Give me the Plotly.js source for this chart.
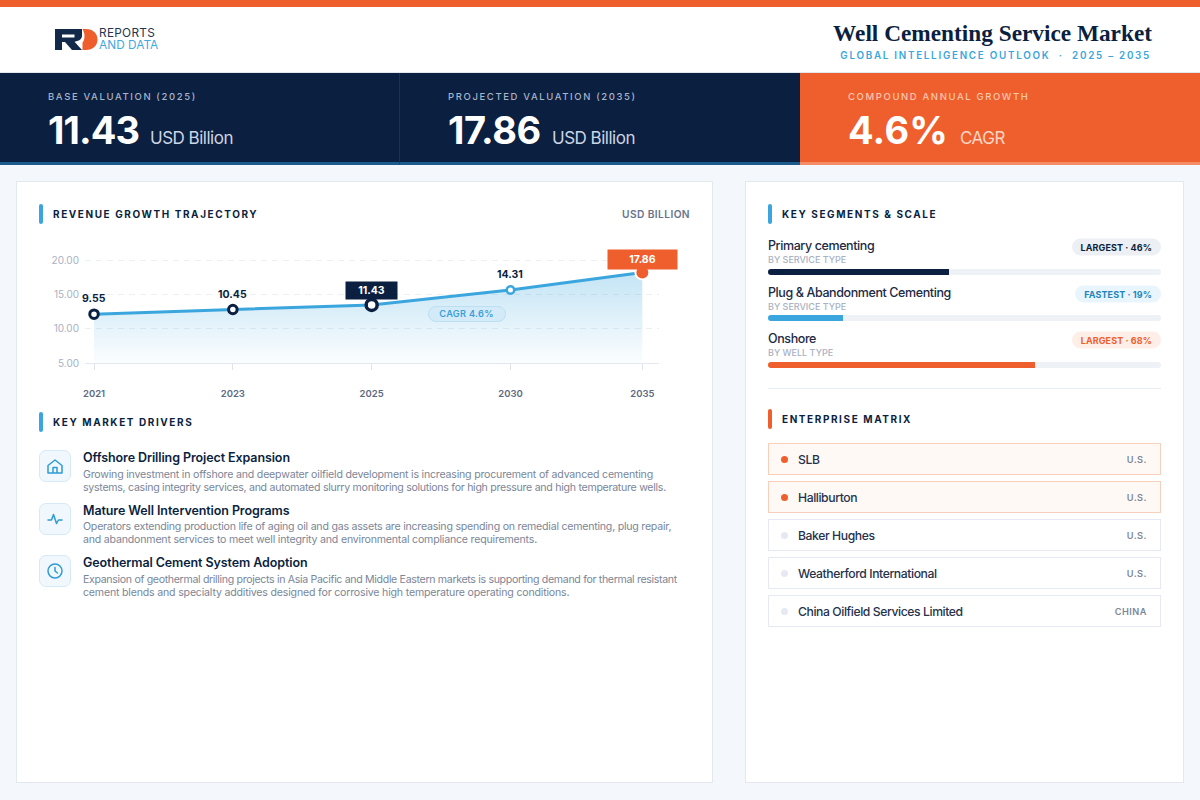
<!DOCTYPE html>
<html><head><meta charset="utf-8">
<script src="https://cdn.plot.ly/plotly-3.0.1.min.js"></script>
<style>
html,body{margin:0;padding:0;width:1200px;height:800px;overflow:hidden;background:#f4f7fb;font-family:Inter,"Noto Sans",sans-serif}
.b{position:absolute;box-sizing:border-box}
.t{position:absolute;white-space:nowrap;transform:translateY(-50%);line-height:1}
#trend{position:absolute}
.seg{position:absolute;left:768px;width:393px;height:6px;border-radius:3px;overflow:hidden}
</style></head><body>
<div id="page"></div>
<div id="trend" style="left:40px;top:240px;width:650px;height:170px"></div>
<div id="seg0" class="seg" style="top:269px"></div>
<div id="seg1" class="seg" style="top:315px"></div>
<div id="seg2" class="seg" style="top:362px"></div>
<div id="over"></div>
<script>
// ---------- data ----------
const years = ['2021','2023','2025','2030','2035'];
const yearSlots = [0,1,2,3,3.95];
const plottedValues = [12.12,12.79,13.47,15.65,18.2];
const pointLabels = ['9.55','10.45','11.43','14.31','17.86'];
const yTicks = [5,10,15,20];

const kpiLabels = ['BASE VALUATION (2025)','PROJECTED VALUATION (2035)','COMPOUND ANNUAL GROWTH'];
const kpiValues = ['11.43','17.86','4.6%'];
const kpiUnits = ['USD Billion','USD Billion','CAGR'];

const segNames = ['Primary cementing','Plug & Abandonment Cementing','Onshore'];
const segTypes = ['BY SERVICE TYPE','BY SERVICE TYPE','BY WELL TYPE'];
const segTags = ['LARGEST · 46%','FASTEST · 19%','LARGEST · 68%'];
const segShares = [46,19,68];

const driverTitles = ['Offshore Drilling Project Expansion','Mature Well Intervention Programs','Geothermal Cement System Adoption'];
const driverLines = [
 ['Growing investment in offshore and deepwater oilfield development is increasing procurement of advanced cementing','systems, casing integrity services, and automated slurry monitoring solutions for high pressure and high temperature wells.'],
 ['Operators extending production life of aging oil and gas assets are increasing spending on remedial cementing, plug repair,','and abandonment services to meet well integrity and environmental compliance requirements.'],
 ['Expansion of geothermal drilling projects in Asia Pacific and Middle Eastern markets is supporting demand for thermal resistant','cement blends and specialty additives designed for corrosive high temperature operating conditions.']
];
const companies = ['SLB','Halliburton','Baker Hughes','Weatherford International','China Oilfield Services Limited'];
const regions = ['U.S.','U.S.','U.S.','U.S.','CHINA'];
const highlighted = [true,true,false,false,false];

// ---------- palette ----------
const NAVY='#0b1f40', BLUE='#3aa6dd', ORANGE='#ef5f2d';

// ---------- page furniture ----------
let h='';
const box=(x,y,w,ht,s)=>{h+=`<div class="b" style="left:${x}px;top:${y}px;width:${w}px;height:${ht}px;${s||''}"></div>`;};
const txt=(x,y,s,style)=>{h+=`<div class="t" style="left:${x}px;top:${y}px;${style}">${s}</div>`;};
const rtxt=(x,y,s,style)=>{h+=`<div class="t" style="right:${1200-x}px;top:${y}px;${style}">${s}</div>`;};
const esc=s=>s.replace(/&/g,'&amp;');

box(0,0,1200,7,`background:${ORANGE}`);
box(0,7,1200,66,'background:#fff;border-bottom:1px solid #e2e7ee');
// logo
h+=`<svg class="b" style="left:55px;top:28px" width="44" height="23" viewBox="0 0 44 23">
<path d="M27 1H0v21h7V14h3l7 8h10l-7.500-8.300C25 13 27 10.500 27 7.500V1zM7 6.500h12.500v3H7z" fill="#12294a" fill-rule="evenodd"/>
<path d="M27.500 1H31c7 0 11.500 4.600 11.500 10.500S38 22 31 22H27.500V14.500C29 13 29.500 10 29.500 8 29.500 5 28.500 3 27.500 1z" fill="${ORANGE}"/></svg>`;
txt(99,34,'REPORTS','font-size:11.8px;color:#24354f;letter-spacing:.3px');
txt(99,46,'AND DATA','font-size:11.8px;color:#3fa9e0;letter-spacing:.05px');
rtxt(1152,33.5,'Well Cementing Service Market',`font-family:'Liberation Serif',serif;font-weight:700;font-size:23.3px;color:${NAVY}`);
rtxt(1151,55.5,'GLOBAL INTELLIGENCE OUTLOOK &nbsp;·&nbsp; 2025 – 2035',`font-size:9.8px;font-weight:600;letter-spacing:1.75px;color:${BLUE}`);

// KPI band
box(0,73,400,92,`background:${NAVY};border-bottom:3px solid #1c5c8c;border-right:1px solid #1d3253`);
box(400,73,400,92,`background:${NAVY};border-bottom:3px solid #1c5c8c`);
box(800,73,400,92,`background:${ORANGE};border-bottom:3px solid #f58c68`);
const kpiX=[48,448,848], unitX=[150,552,960];
const kpiTrack=[-.9,-.4,.2];
kpiLabels.forEach((l,i)=>{
  txt(kpiX[i],97,l,`font-size:9.5px;font-weight:500;letter-spacing:1.62px;color:${i==2?'#fbc6ae':'#a7b4ca'}`);
  txt(kpiX[i],130,kpiValues[i],`font-size:38px;font-weight:700;color:#fff;letter-spacing:${kpiTrack[i]}px`);
  txt(unitX[i],138,kpiUnits[i],`font-size:17px;letter-spacing:-.5px;color:${i==2?'#fbd5c5':'#ccd5e3'}`);
});

// cards
box(16,181,697,602,'background:#fff;border:1px solid #e3e8ef');
box(745,181,439,602,'background:#fff;border:1px solid #e3e8ef');

const sec=(x,y,s,c)=>{box(x,y-10,3.500,20,`background:${c};border-radius:2px`);txt(x+14,y,s,`font-size:10px;font-weight:700;letter-spacing:1.58px;color:${NAVY}`);};
sec(39,214,'REVENUE GROWTH TRAJECTORY',BLUE);
sec(39,422,'KEY MARKET DRIVERS',BLUE);
sec(768,214,'KEY SEGMENTS &amp; SCALE',BLUE);
sec(768,419,'ENTERPRISE MATRIX',ORANGE);
rtxt(690,214,'USD BILLION','font-size:10.2px;font-weight:600;letter-spacing:.4px;color:#68748a');

// drivers
const icons=[
 '<path d="M3 9.500 10 4l7 5.500V17H3z M8 17v-5.500h4V17"/>',
 '<path d="M3 11h3.500l2-5.500 3 9 2-3.500H17"/>',
 '<circle cx="10" cy="10" r="7"/><path d="M10 6.500V10l2.500 2"/>'];
const boxY=[450,503,555], titleY=[457.5,510.5,562.5], lineY=[[474.5,487.5],[526.5,539.5],[579.5,592.5]];
const lineTrack=[[-.2,-.28],[-.23,-.2],[-.33,-.19]];
driverTitles.forEach((d,i)=>{
  box(39,boxY[i],32,32,'background:#f0f8fd;border:1px solid #d5e9f6;border-radius:7px');
  h+=`<svg class="b" style="left:45px;top:${boxY[i]+6}px" width="20" height="20" viewBox="0 0 20 20" fill="none" stroke="#2f9bd4" stroke-width="1.500" stroke-linejoin="round" stroke-linecap="round">${icons[i]}</svg>`;
  txt(83,titleY[i],d,`font-size:12.5px;font-weight:600;letter-spacing:-.1px;color:${NAVY}`);
  driverLines[i].forEach((l,j)=>txt(83,lineY[i][j],l,`font-size:10.6px;letter-spacing:${lineTrack[i][j]}px;color:#7b8698`));
});

// segments text
const segNameY=[246,293,339], segTypeY=[258.8,305.8,351.8];
const pillBg=['#eceff4','#e9f5fc','#fdeee8'], pillFg=[NAVY,'#1f86bd',ORANGE];
segNames.forEach((s,i)=>{
  txt(768,segNameY[i],esc(s),'font-size:12.5px;font-weight:500;letter-spacing:-.4px;color:#1c2a44');
  txt(768,segTypeY[i],segTypes[i],'font-size:9px;font-weight:500;color:#a9b1c2');
  h+=`<div class="t" style="right:39px;top:${segNameY[i]+.5}px;height:17px;line-height:17px;padding:0 9px;border-radius:9px;background:${pillBg[i]};color:${pillFg[i]};font-size:9px;font-weight:700;letter-spacing:.1px">${segTags[i]}</div>`;
});
box(768,388,393,1,'background:#e8ebf1');

// companies
const rowY=[443,481,519,557,595];
companies.forEach((c,i)=>{
  const hi=highlighted[i];
  box(768,rowY[i],393,32,hi?'background:#fff9f6;border:1px solid #f7cfbb':'background:#fff;border:1px solid #e6e9f1');
  box(781,rowY[i]+12.500,7,7,`border-radius:50%;background:${hi?ORANGE:'#e6e9f1'}`);
  txt(798,rowY[i]+16.500,c,'font-size:12.2px;font-weight:500;letter-spacing:-.42px;color:#26324b');
  rtxt(1147,rowY[i]+17,regions[i],'font-size:9.2px;font-weight:600;letter-spacing:.5px;color:#7d8799');
});
document.getElementById('page').innerHTML=h;

// CAGR pill sits over the plot
document.getElementById('over').innerHTML=`<div class="b" style="left:427.500px;top:305.500px;width:78px;height:16.500px;border-radius:9px;background:#d3ebf8;border:1px solid #bcdff1;color:#3aa0d8;font-size:9.200px;font-weight:600;letter-spacing:.3px;text-align:center;line-height:14.500px">CAGR 4.6%</div>`;

// ---------- trend chart ----------
const labelShift=[15.5,15.5,0,15.5,0];
const annos=pointLabels.map((l,i)=>{
  const base={x:yearSlots[i],y:plottedValues[i],xref:'x',yref:'y',text:l,showarrow:false};
  if(i===2) return {...base,yshift:14,width:51,height:17,bgcolor:NAVY,font:{family:'Inter',size:10.5,color:'#fff',weight:700},borderpad:0};
  if(i===4) return {...base,yshift:13,width:69,height:19,bgcolor:ORANGE,font:{family:'Inter',size:10.5,color:'#fff',weight:700},borderpad:0};
  return {...base,yshift:labelShift[i],font:{family:'Inter',size:10.5,color:NAVY,weight:700}};
});
Plotly.newPlot('trend',[{
  type:'scatter',mode:'lines+markers',x:yearSlots,y:plottedValues,
  line:{color:BLUE,width:3},
  fill:'tozeroy',
  fillgradient:{type:'vertical',start:18.2,stop:5,colorscale:[[0,'rgba(58,166,221,0.30)'],[1,'rgba(58,166,221,0.02)']]},
  marker:{size:[8.5,8.5,11,7.5,14],color:['#fff','#fff','#fff','#fff',ORANGE],opacity:1,
          line:{color:[NAVY,NAVY,NAVY,BLUE,'#fff'],width:[3,3,3.5,2.5,2]}},
  cliponaxis:false,hoverinfo:'skip'
}],{
  width:650,height:170,margin:{l:45,r:31,t:10,b:46.5},
  paper_bgcolor:'rgba(0,0,0,0)',plot_bgcolor:'rgba(0,0,0,0)',showlegend:false,
  xaxis:{type:'linear',range:[-0.065,4.07],tickmode:'array',tickvals:yearSlots,ticktext:years,
    showgrid:false,zeroline:false,showline:true,linecolor:'#e3e7f0',linewidth:1,
    ticks:'outside',ticklen:6,tickcolor:'#dfe3ec',ticklabelstandoff:16,
    tickfont:{family:'Inter',size:9.5,color:'#5d6a82',weight:600}},
  yaxis:{range:[5,21.47],tickmode:'array',tickvals:yTicks,tickformat:'.2f',
    showgrid:true,gridcolor:'#eceff4',griddash:'6px,5px',gridwidth:1,zeroline:false,showline:false,
    ticks:'',ticklabelstandoff:5,tickfont:{family:'Inter',size:10,color:'#a9b1c2'}},
  annotations:annos
},{displayModeBar:false,staticPlot:true});

// ---------- segment bars ----------
const segColors=[NAVY,BLUE,ORANGE];
segNames.forEach((name,i)=>{
  Plotly.newPlot('seg'+i,[
   {type:'bar',orientation:'h',y:[name],x:[100],marker:{color:'#eef1f6'},hoverinfo:'skip'},
   {type:'bar',orientation:'h',y:[name],x:[segShares[i]],marker:{color:segColors[i],cornerradius:3},hoverinfo:'skip'}
  ],{
    width:393,height:6,margin:{l:0,r:0,t:0,b:0,pad:0},barmode:'overlay',bargap:0,showlegend:false,
    paper_bgcolor:'rgba(0,0,0,0)',plot_bgcolor:'rgba(0,0,0,0)',
    xaxis:{range:[0,100],visible:false,fixedrange:true},
    yaxis:{type:'category',visible:false,fixedrange:true}
  },{displayModeBar:false,staticPlot:true});
});
</script>
</body></html>
